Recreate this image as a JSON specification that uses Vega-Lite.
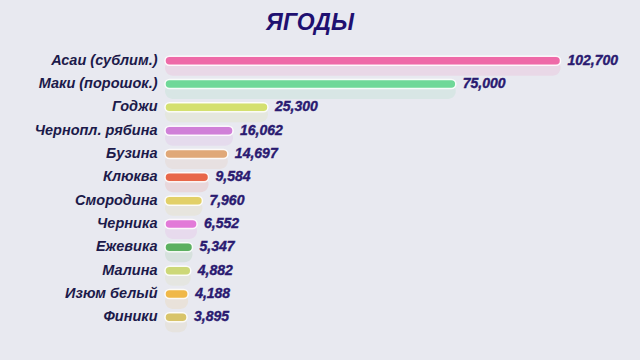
{
  "$schema": "https://vega.github.io/schema/vega-lite/v6.json",
  "width": 400,
  "height": 280,
  "autosize": {"type": "none"},
  "padding": {"left": 165, "top": 49, "right": 75, "bottom": 31},
  "background": "#e8e9f0",
  "title": {
    "text": "ЯГОДЫ",
    "font": "Liberation Sans",
    "fontSize": 23,
    "fontWeight": "bold",
    "fontStyle": "italic",
    "color": "#1f1070",
    "anchor": "middle",
    "dx": -55,
    "offset": 14
  },
  "config": {"view": {"stroke": null}},
  "data": {
    "values": [
      {"name": "Асаи (сублим.)", "v": 102700, "label": "102,700"},
      {"name": "Маки (порошок.)", "v": 75000, "label": "75,000"},
      {"name": "Годжи", "v": 25300, "label": "25,300"},
      {"name": "Чернопл. рябина", "v": 16062, "label": "16,062"},
      {"name": "Бузина", "v": 14697, "label": "14,697"},
      {"name": "Клюква", "v": 9584, "label": "9,584"},
      {"name": "Смородина", "v": 7960, "label": "7,960"},
      {"name": "Черника", "v": 6552, "label": "6,552"},
      {"name": "Ежевика", "v": 5347, "label": "5,347"},
      {"name": "Малина", "v": 4882, "label": "4,882"},
      {"name": "Изюм белый", "v": 4188, "label": "4,188"},
      {"name": "Финики", "v": 3895, "label": "3,895"}
    ]
  },
  "encoding": {
    "y": {
      "field": "name",
      "type": "nominal",
      "sort": null,
      "title": null,
      "axis": {
        "domain": false,
        "ticks": false,
        "labelPadding": 8,
        "labelFont": "Liberation Sans",
        "labelFontSize": 14.5,
        "labelFontWeight": "bold",
        "labelFontStyle": "italic",
        "labelColor": "#1c1a4a"
      }
    }
  },
  "layer": [
    {
      "mark": {"type": "bar", "size": 16, "cornerRadius": 8, "yOffset": 7, "opacity": 0.13},
      "encoding": {
        "x": {"field": "v", "type": "quantitative", "scale": {"domain": [-1930, 103890], "zero": false, "nice": false}, "axis": null},
        "x2": {"datum": -1930},
        "color": {"field": "name", "type": "nominal", "legend": null, "sort": null,
          "scale": {"range": ["#ee6aa8", "#6fd898", "#d4e070", "#d080d8", "#e0a878", "#e8674a", "#e2d068", "#e27ad8", "#5cb060", "#cdd878", "#f0b848", "#d8c46a"]}}
      }
    },
    {
      "mark": {"type": "bar", "size": 9, "cornerRadius": 4.5, "stroke": "#ffffff", "strokeWidth": 1.5, "strokeOpacity": 0.9},
      "encoding": {
        "x": {"field": "v", "type": "quantitative"},
        "x2": {"datum": -1930},
        "color": {"field": "name", "type": "nominal", "legend": null, "sort": null}
      }
    },
    {
      "mark": {"type": "text", "align": "left", "baseline": "middle", "dx": 7, "font": "Liberation Sans", "fontSize": 14, "fontWeight": "bold", "fontStyle": "italic", "color": "#2a1a70", "stroke": "#2a1a70", "strokeWidth": 0.4},
      "encoding": {
        "x": {"field": "v", "type": "quantitative"},
        "text": {"field": "label"}
      }
    }
  ]
}
